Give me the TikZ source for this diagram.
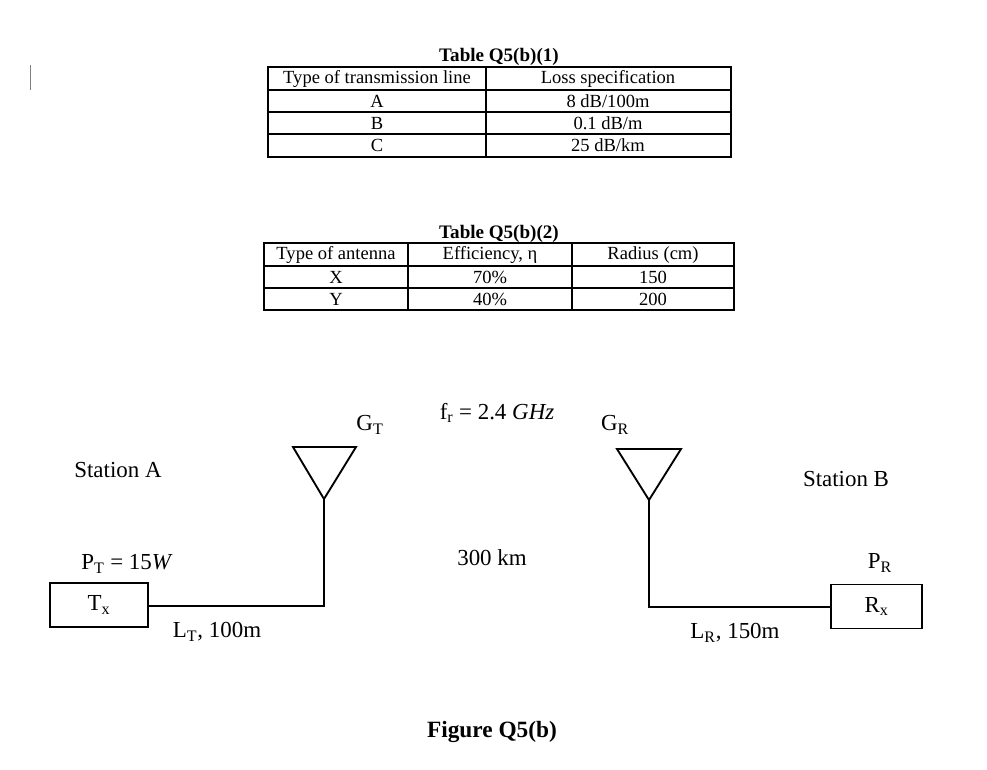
\documentclass[tikz,border=0pt]{standalone}
\usepackage{fontspec}
\setmainfont{Liberation Serif}
\begin{document}
\begin{tikzpicture}[x=0.75pt,y=-0.75pt,
 tb/.style={font=\fontsize{13.9}{14}\selectfont,inner sep=0pt},
 lb/.style={font=\fontsize{17.2}{18}\selectfont,inner sep=0pt},
 ttl/.style={font=\fontsize{14.3}{15}\selectfont\bfseries,inner sep=0pt},
 box/.style={draw,line width=1.2pt,minimum width=73.5pt,minimum height=33pt,inner sep=0pt},
 ln/.style={line width=1.4pt},
 grid/.style={line width=0.8pt}]
\useasboundingbox (0,0) rectangle (987,769);
\draw[line width=0.6pt,gray] (30,65) -- (30,90);
% Table 1
\node[ttl] (t1) at (499,57) {Table Q5(b)(1)};
\draw[grid] (268,67) rectangle (731,157);
\foreach \y in {90,112,134} \draw[grid] (268,\y) -- (731,\y);
\draw[grid] (486,67) -- (486,157);
\node[tb] (a1) at (377,79) {Type of transmission line};
\node[tb] (a2) at (608,79) {Loss specification};
\node[tb] (a3) at (377,101) {A};
\node[tb] (a4) at (608,101) {8 dB/100m};
\node[tb] (a5) at (377,123) {B};
\node[tb] (a6) at (608,123) {0.1 dB/m};
\node[tb] (a7) at (377,145) {C};
\node[tb] (a8) at (608,145) {25 dB/km};
% Table 2
\node[ttl] (t2) at (499,234) {Table Q5(b)(2)};
\draw[grid] (264,243) rectangle (734,310);
\foreach \y in {266,288} \draw[grid] (264,\y) -- (734,\y);
\draw[grid] (408,243) -- (408,310);
\draw[grid] (572,243) -- (572,310);
\node[tb] (b1) at (336,255) {Type of antenna};
\node[tb] (b2) at (490,255) {Efficiency, η};
\node[tb] (b3) at (653,255) {Radius (cm)};
\node[tb] (b4) at (336,277) {X};
\node[tb] (b5) at (490,277) {70\%};
\node[tb] (b6) at (653,277) {150};
\node[tb] (b7) at (336,299) {Y};
\node[tb] (b8) at (490,299) {40\%};
\node[tb] (b9) at (653,299) {200};
% Diagram
\node[box] (tx) at (99,605) {\fontsize{17.2}{18}\selectfont T\textsubscript{x}};
\node[box,minimum width=68pt] (rx) at (876.5,606.5) {\fontsize{17.2}{18}\selectfont R\textsubscript{x}};
\coordinate (ta) at (324,499);
\coordinate (ra) at (649,500);
\draw[ln] (293,447) -- (356,447) -- (ta) -- cycle;
\draw[ln] (617,449) -- (681,449) -- (ra) -- cycle;
\draw[ln] (tx.east |- 0,606) -- (324,606) -- (ta);
\draw[ln] (ra) -- (649,607) -- (rx.west |- 0,607);
\node[lb] (gt) at (370,425) {G\textsubscript{T}};
\node[lb] (gr) at (615,425) {G\textsubscript{R}};
\node[lb] (fr) at (497,413) {f\textsubscript{r} = 2.4 \textit{GHz}};
\node[lb] (d) at (492,558) {300 km};
\node[lb] (sa) at (118,470) {Station A};
\node[lb] (sb) at (846,479) {Station B};
\node[lb] (pt) at (127,564) {P\textsubscript{T} = 15\textit{W}};
\node[lb] (pr) at (880,563) {P\textsubscript{R}};
\node[lb] (lt) at (217,632) {L\textsubscript{T}, 100m};
\node[lb] (lr) at (735,633) {L\textsubscript{R}, 150m};
\node[inner sep=0pt,font=\fontsize{17.5}{18}\selectfont\bfseries] (fig) at (492,732) {Figure Q5(b)};
\end{tikzpicture}
\end{document}
